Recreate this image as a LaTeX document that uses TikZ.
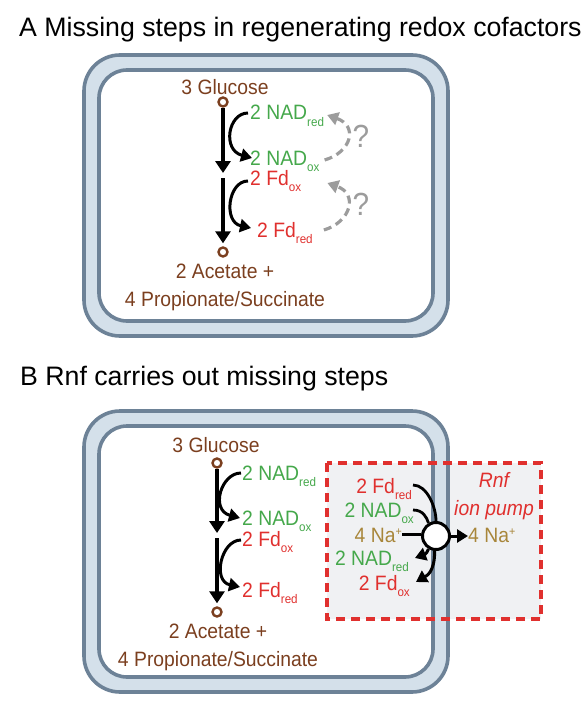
\documentclass[tikz,border=0pt]{standalone}
\usepackage{fontspec}
\setmainfont{Liberation Sans}
\newfontfamily\labfont[FakeStretch=0.93]{Liberation Sans}
\usetikzlibrary{positioning,arrows.meta,calc}
\definecolor{glcBrown}{HTML}{7B3F1F}
\definecolor{nadGreen}{HTML}{45A84B}
\definecolor{fdRed}{HTML}{E0302E}
\definecolor{naGold}{HTML}{A8863A}
\definecolor{qGray}{HTML}{9C9C9C}
\definecolor{memFill}{HTML}{D4E0EA}
\definecolor{memLine}{HTML}{6D8297}
\definecolor{pumpFill}{HTML}{F0F1F3}
\newcommand{\lo}[1]{\raisebox{-6pt}{\fontsize{12.5}{12.5}\selectfont #1}}
\newcommand{\hi}[1]{\raisebox{7pt}{\fontsize{11.5}{11.5}\selectfont #1}}
\tikzset{
  title/.style={font=\fontsize{26.7}{30}\selectfont, anchor=base west, inner sep=0pt},
  metab/.style={font=\labfont\fontsize{20.8}{22}\selectfont, text=glcBrown, anchor=base, inner sep=0pt},
  cof/.style={font=\labfont\fontsize{20.8}{22}\selectfont, anchor=base west, inner sep=0pt},
  nad/.style={cof, text=nadGreen},
  fd/.style={cof, text=fdRed},
  na/.style={cof, text=naGold},
  pumplabel/.style={cof, anchor=base, text=fdRed, font=\labfont\fontsize{20.8}{22}\selectfont\itshape},
  pore/.style={circle, draw=glcBrown, line width=2.4pt, fill=white, minimum size=9pt, inner sep=0pt},
  flux/.style={line width=3.6pt, -{Triangle[length=12pt, width=15pt]}},
  side/.style={line width=3pt, -{Triangle[length=11pt, width=13pt]}},
  guess/.style={qGray, line width=3.2pt, dash pattern=on 8pt off 5pt, -{Triangle[length=11pt, width=13pt]}},
  qmark/.style={text=qGray, font=\labfont\fontsize{32}{34}\selectfont, inner sep=0pt},
  wall/.style={draw=memLine, line width=3.6pt},
  pump/.style={circle, draw, line width=3pt, fill=white, minimum size=27pt, inner sep=0pt},
}
\begin{document}
\begin{tikzpicture}[x=1pt, y=-1pt]
  \useasboundingbox (0,0) rectangle (588,706);
  \node[title] (ttlA) at (19,37) {A Missing steps in regenerating redox cofactors};
  \fill[memFill, even odd rule, rounded corners=36pt] (84,55) rectangle (448,336)
    [rounded corners=28pt] (99,70) rectangle (433,321);
  \draw[wall, rounded corners=36pt] (84,55) rectangle (448,336);
  \draw[wall, rounded corners=28pt] (99,70) rectangle (433,321);
  \node[metab] (glcA) at (225,95) {3 Glucose};
  \node[pore] (topA) at (223,102) {};
  \coordinate (midA) at (223,175);
  \node[pore] (botA) at (223,252) {};
  \node[metab] (acA) at (225,278) {2 Acetate +};
  \node[metab] (prA) at (225,306) {4 Propionate/Succinate};
  \draw[flux, shorten >=2pt] (topA) -- (midA);
  \draw[flux, shorten <=3pt, shorten >=3pt] (midA) -- (botA);
  \node[nad] (nadrA) at (250,120) {2 NAD\lo{red}};
  \node[nad] (nadoA) at (250,165) {2 NAD\lo{ox}};
  \node[fd] (fdoA) at (250,185) {2 Fd\lo{ox}};
  \node[fd] (fdrA) at (257,237) {2 Fd\lo{red}};
  \draw[side] ($(nadrA.base west)+(-2,-7)$) .. controls +(-20,0) and +(-30,-8) .. ($(nadoA.base west)+(2,-7)$);
  \draw[side] ($(fdoA.base west)+(-2,-4)$) .. controls +(-20,0) and +(-28,-6) .. ($(fdrA.base west)+(-6,-9)$);
  \draw[guess] ($(nadoA.base east)+(5,-5)$) .. controls +(27,-8) and +(31,11) .. ($(nadrA.base east)+(3,-5)$);
  \draw[guess] ($(fdrA.base east)+(11,-7)$) .. controls +(27,-8) and +(31,11) .. ($(fdoA.base east)+(26,-2)$);
  \node[qmark] (q1A) at (361,136) {?};
  \node[qmark] (q2A) at (361,204) {?};

  \node[title] (ttlB) at (20,385) {B Rnf carries out missing steps};
  \fill[pumpFill] (327,463) rectangle (541,619);
  \fill[memFill, even odd rule, rounded corners=36pt] (84,411) rectangle (448,692)
    [rounded corners=28pt] (99,426) rectangle (433,677);
  \draw[wall, rounded corners=36pt] (84,411) rectangle (448,692);
  \draw[wall, rounded corners=28pt] (99,426) rectangle (433,677);
  \draw[fdRed, line width=3.4pt, dash pattern=on 9pt off 6pt] (327,463) rectangle (541,619);
  \node[metab] (glcB) at (216,452) {3 Glucose};
  \node[pore] (topB) at (217,463) {};
  \coordinate (midB) at (217,535);
  \node[pore] (botB) at (217,612) {};
  \node[metab] (acB) at (218,638) {2 Acetate +};
  \node[metab] (prB) at (218,666) {4 Propionate/Succinate};
  \draw[flux, shorten >=2pt] (topB) -- (midB);
  \draw[flux, shorten <=3pt, shorten >=3pt] (midB) -- (botB);
  \node[nad] (nadrB) at (242,480) {2 NAD\lo{red}};
  \node[nad] (nadoB) at (242,525) {2 NAD\lo{ox}};
  \node[fd] (fdoB) at (242,546) {2 Fd\lo{ox}};
  \node[fd] (fdrB) at (242,597) {2 Fd\lo{red}};
  \draw[side] ($(nadrB.base west)+(-1,-7)$) .. controls +(-20,0) and +(-30,-8) .. ($(nadoB.base west)+(-2,-7)$);
  \draw[side] ($(fdoB.base west)+(-1,-6)$) .. controls +(-20,0) and +(-28,-6) .. ($(fdrB.base west)+(-2,-10)$);

  \node[fd, anchor=base east] (fdrP) at (412,493) {2 Fd\lo{red}};
  \node[nad, anchor=base east] (nadoP) at (414,517) {2 NAD\lo{ox}};
  \node[na, anchor=base east] (naIn) at (402,542) {4 Na\hi{+}};
  \node[nad, anchor=base east] (nadrP) at (409,565) {2 NAD\lo{red}};
  \node[fd, anchor=base east] (fdoP) at (410,590) {2 Fd\lo{ox}};
  \node[pump] (rnf) at (436,536) {};
  \node[na] (naOut) at (468,542) {4 Na\hi{+}};
  \node[pumplabel] (rnfName) at (494,487) {Rnf};
  \node[pumplabel] (rnfRole) at (494,515) {ion pump};
  \draw[line width=3pt] (naIn.east) -- (naIn.east -| rnf.west);
  \draw[side] (rnf.east) -- (rnf.east -| naOut.west);
  \draw[line width=2.8pt] ($(fdrP.base east)+(1,-8)$) .. controls +(14,0) and +(0,-14) .. (rnf.north);
  \draw[line width=2.8pt] ($(nadoP.base east)+(-1,-7)$) .. controls +(10,0) and +(-2,-6) .. (rnf.120);
  \draw[side] (rnf.240) .. controls +(-2,6) and +(8,-3) .. ($(nadrP.base east)+(6,-7)$);
  \draw[side] (rnf.265) .. controls +(0,22) and +(10,-6) .. ($(fdoP.base east)+(6,-8)$);
\end{tikzpicture}
\end{document}
